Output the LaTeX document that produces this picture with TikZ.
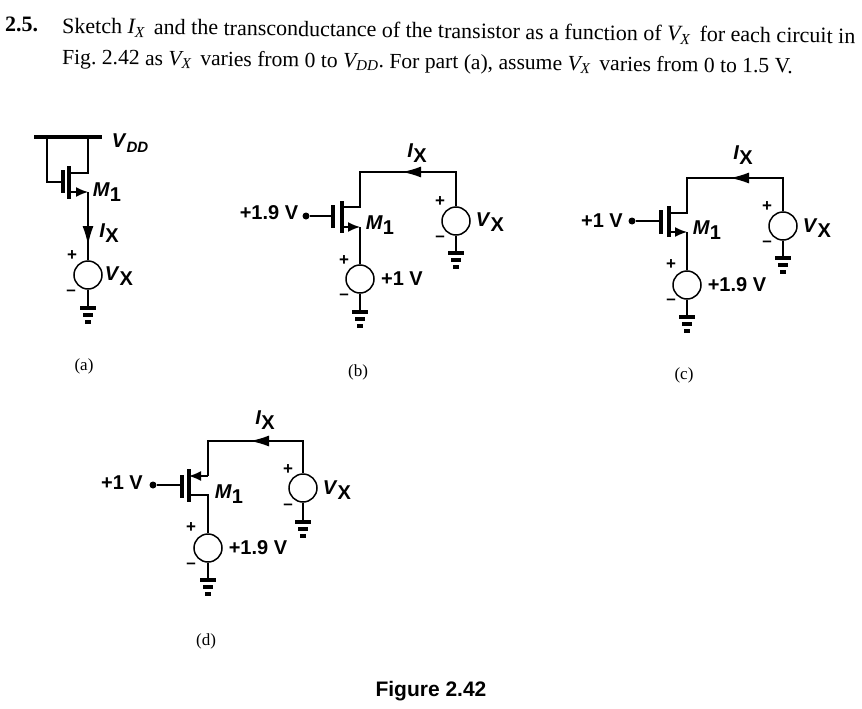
\documentclass[tikz,border=0pt]{standalone}
\usepackage{fontspec}
\setmainfont{Liberation Serif}
\newfontfamily\labelfont{Liberation Sans}
\usetikzlibrary{arrows.meta,positioning,calc}
\tikzset{
    wire/.style={line width=1.5pt, line join=miter},
    barline/.style={line width=3.5pt},
    flow/.style={-{Latex[length=19pt,width=11pt]}, line width=1.5pt},
    srcflow/.style={-{Latex[length=12pt,width=10pt]}, line width=1.5pt},
    source/.style={draw, circle, minimum size=28pt, inner sep=0pt, line width=1.5pt},
    dot/.style={circle, fill, minimum size=7pt, inner sep=0pt},
    lbl/.style={font=\labelfont\bfseries\fontsize{20}{20}\selectfont, inner sep=0pt},
    sign/.style={font=\labelfont\bfseries\fontsize{17}{17}\selectfont, inner sep=0pt},
    body/.style={font=\fontsize{22}{22}\selectfont\frenchspacing, inner sep=0pt, anchor=base west},
    caption/.style={font=\fontsize{17}{17}\selectfont, inner sep=0pt}
}
\newcommand{\ix}{\textit{I}\raisebox{-5pt}{X}}
\newcommand{\vx}{\textit{V}\raisebox{-5pt}{X}}
\newcommand{\mone}{\textit{M}\raisebox{-5pt}{1}}
\newcommand{\gnd}[1]{
    \draw[barline] ($(#1)+(-8,0)$) -- ($(#1)+(8,0)$);
    \draw[barline] ($(#1)+(-5,7)$) -- ($(#1)+(5,7)$);
    \draw[barline] ($(#1)+(-3,14)$) -- ($(#1)+(3,14)$);
}
\begin{document}
\begin{tikzpicture}[x=1pt, y=-1pt]
    \useasboundingbox (0,0) rectangle (862,709);

    % Problem text
    \node[body, font=\bfseries\fontsize{22}{22}\selectfont] (num) at (5,32) {2.5.};
    \node[body, rotate=-0.75] (lineone) at (62,33) {Sketch \textit{I\textsubscript{X}}\, and the transconductance of the transistor as a function of \textit{V\textsubscript{X}}\, for each circuit in};
    \node[body, rotate=-0.72, font=\fontsize{21.6}{21.6}\selectfont\frenchspacing] (linetwo) at (62,64) {Fig. 2.42 as \textit{V\textsubscript{X}}\, varies from 0 to \textit{V\textsubscript{DD}}. For part (a), assume \textit{V\textsubscript{X}}\, varies from 0 to 1.5 V.};

    % Circuit a
    \coordinate (aleft) at (34,137);
    \coordinate (aright) at (102,137);
    \coordinate (atapg) at (47,137);
    \coordinate (atapd) at (88,137);
    \coordinate (ag) at (47,182);
    \coordinate (agate) at (63,182);
    \coordinate (adc) at (69,173);
    \coordinate (ad) at (88,173);
    \coordinate (asc) at (69,192);
    \coordinate (as) at (88,192);
    \coordinate (aflow) at (88,245);
    \coordinate (agnd) at (88,308);
    \node[source] (avx) at (88,275) {};
    \draw[barline] (aleft) -- (aright);
    \draw[wire] (atapg) -- (ag) -- (agate);
    \draw[barline] (63,170) -- (63,193);
    \draw[barline] (69,166) -- (69,199);
    \draw[wire] (adc) -- (ad) -- (atapd);
    \draw[srcflow] (asc) -- (as);
    \draw[wire] (as) -- (aflow);
    \draw[flow] (88,226) -- (aflow);
    \draw[wire] (aflow) -- (avx);
    \draw[wire] (avx) -- (agnd);
    \gnd{agnd}
    \node[lbl] (avdd) at (130,143) {\textit{V}\raisebox{-5pt}{\fontsize{15}{15}\selectfont\textit{DD}}};
    \node[lbl] (am) at (107,192) {\mone};
    \node[lbl] (aix) at (109,233) {\ix};
    \node[lbl] (avxl) at (119,276) {\vx};
    \node[sign] (aplus) at (72,256) {+};
    \node[sign] (aminus) at (71,293) {–};
    \node[caption] (acap) at (84,366) {(a)};

    % Circuit b
    \node[dot] (bdot) at (306,216) {};
    \coordinate (bgate) at (333,216);
    \coordinate (bdc) at (342,207);
    \coordinate (bd) at (360,207);
    \coordinate (bup) at (360,172);
    \coordinate (bover) at (456,172);
    \coordinate (bflow) at (402,172);
    \coordinate (bsc) at (342,227);
    \coordinate (bs) at (360,227);
    \coordinate (bgnda) at (360,312);
    \coordinate (bgndb) at (456,253);
    \node[source] (bvs) at (360,279) {};
    \node[source] (bvx) at (456,221) {};
    \draw[wire] (bdot) -- (bgate);
    \draw[barline] (333,205) -- (333,228);
    \draw[barline] (342,201) -- (342,233);
    \draw[wire] (bdc) -- (bd) -- (bup) -- (bover) -- (bvx);
    \draw[flow] (420,172) -- (bflow);
    \draw[srcflow] (bsc) -- (bs);
    \draw[wire] (bs) -- (bvs);
    \draw[wire] (bvs) -- (bgnda);
    \draw[wire] (bvx) -- (bgndb);
    \gnd{bgnda}
    \gnd{bgndb}
    \node[lbl] (bvg) at (269,213) {+1.9 V};
    \node[lbl] (bm) at (380,225) {\mone};
    \node[lbl] (bvsl) at (402,279) {+1 V};
    \node[lbl] (bix) at (417,153) {\ix};
    \node[lbl] (bvxl) at (490,222) {\vx};
    \node[sign] (bplusx) at (440,202) {+};
    \node[sign] (bminusx) at (440,239) {–};
    \node[sign] (bplus) at (344,261) {+};
    \node[sign] (bminus) at (344,297) {–};
    \node[caption] (bcap) at (358,372) {(b)};

    % Circuit c
    \node[dot] (cdot) at (632,221) {};
    \coordinate (cgate) at (661,221);
    \coordinate (cdc) at (669,213);
    \coordinate (cd) at (687,213);
    \coordinate (cup) at (687,178);
    \coordinate (cover) at (783,178);
    \coordinate (cflow) at (730,178);
    \coordinate (csc) at (669,232);
    \coordinate (cs) at (687,232);
    \coordinate (cgnda) at (687,317);
    \coordinate (cgndb) at (783,258);
    \node[source] (cvs) at (687,285) {};
    \node[source] (cvx) at (783,226) {};
    \draw[wire] (cdot) -- (cgate);
    \draw[barline] (661,210) -- (661,234);
    \draw[barline] (669,206) -- (669,237);
    \draw[wire] (cdc) -- (cd) -- (cup) -- (cover) -- (cvx);
    \draw[flow] (748,178) -- (cflow);
    \draw[srcflow] (csc) -- (cs);
    \draw[wire] (cs) -- (cvs);
    \draw[wire] (cvs) -- (cgnda);
    \draw[wire] (cvx) -- (cgndb);
    \gnd{cgnda}
    \gnd{cgndb}
    \node[lbl] (cvg) at (602,221) {+1 V};
    \node[lbl] (cm) at (707,230) {\mone};
    \node[lbl] (cvsl) at (737,285) {+1.9 V};
    \node[lbl] (cix) at (743,155) {\ix};
    \node[lbl] (cvxl) at (817,228) {\vx};
    \node[sign] (cplusx) at (767,207) {+};
    \node[sign] (cminusx) at (767,244) {–};
    \node[sign] (cplus) at (671,265) {+};
    \node[sign] (cminus) at (671,302) {–};
    \node[caption] (ccap) at (684,375) {(c)};

    % Circuit d
    \node[dot] (ddot) at (153,485) {};
    \coordinate (dgate) at (182,485);
    \coordinate (dsc) at (189,476);
    \coordinate (ds) at (208,476);
    \coordinate (dup) at (208,441);
    \coordinate (dover) at (303,441);
    \coordinate (dflow) at (250,441);
    \coordinate (ddc) at (189,495);
    \coordinate (dd) at (208,495);
    \coordinate (dgnda) at (208,580);
    \coordinate (dgndb) at (303,522);
    \node[source] (dvs) at (208,548) {};
    \node[source] (dvx) at (303,488) {};
    \draw[wire] (ddot) -- (dgate);
    \draw[barline] (182,475) -- (182,498);
    \draw[barline] (189,469) -- (189,502);
    \draw[srcflow] (ds) -- (dsc);
    \draw[wire] (ds) -- (dup) -- (dover) -- (dvx);
    \draw[flow] (268,441) -- (dflow);
    \draw[wire] (ddc) -- (dd) -- (dvs);
    \draw[wire] (dvs) -- (dgnda);
    \draw[wire] (dvx) -- (dgndb);
    \gnd{dgnda}
    \gnd{dgndb}
    \node[lbl] (dvg) at (122,483) {+1 V};
    \node[lbl] (dm) at (229,494) {\mone};
    \node[lbl] (dvsl) at (258,548) {+1.9 V};
    \node[lbl] (dix) at (265,420) {\ix};
    \node[lbl] (dvxl) at (337,490) {\vx};
    \node[sign] (dplusx) at (288,470) {+};
    \node[sign] (dminusx) at (288,507) {–};
    \node[sign] (dplus) at (191,528) {+};
    \node[sign] (dminus) at (191,566) {–};
    \node[caption] (dcap) at (206,641) {(d)};

    % Caption
    \node[lbl, font=\labelfont\bfseries\fontsize{21}{21}\selectfont] (figcap) at (431,691) {Figure 2.42};
\end{tikzpicture}
\end{document}
